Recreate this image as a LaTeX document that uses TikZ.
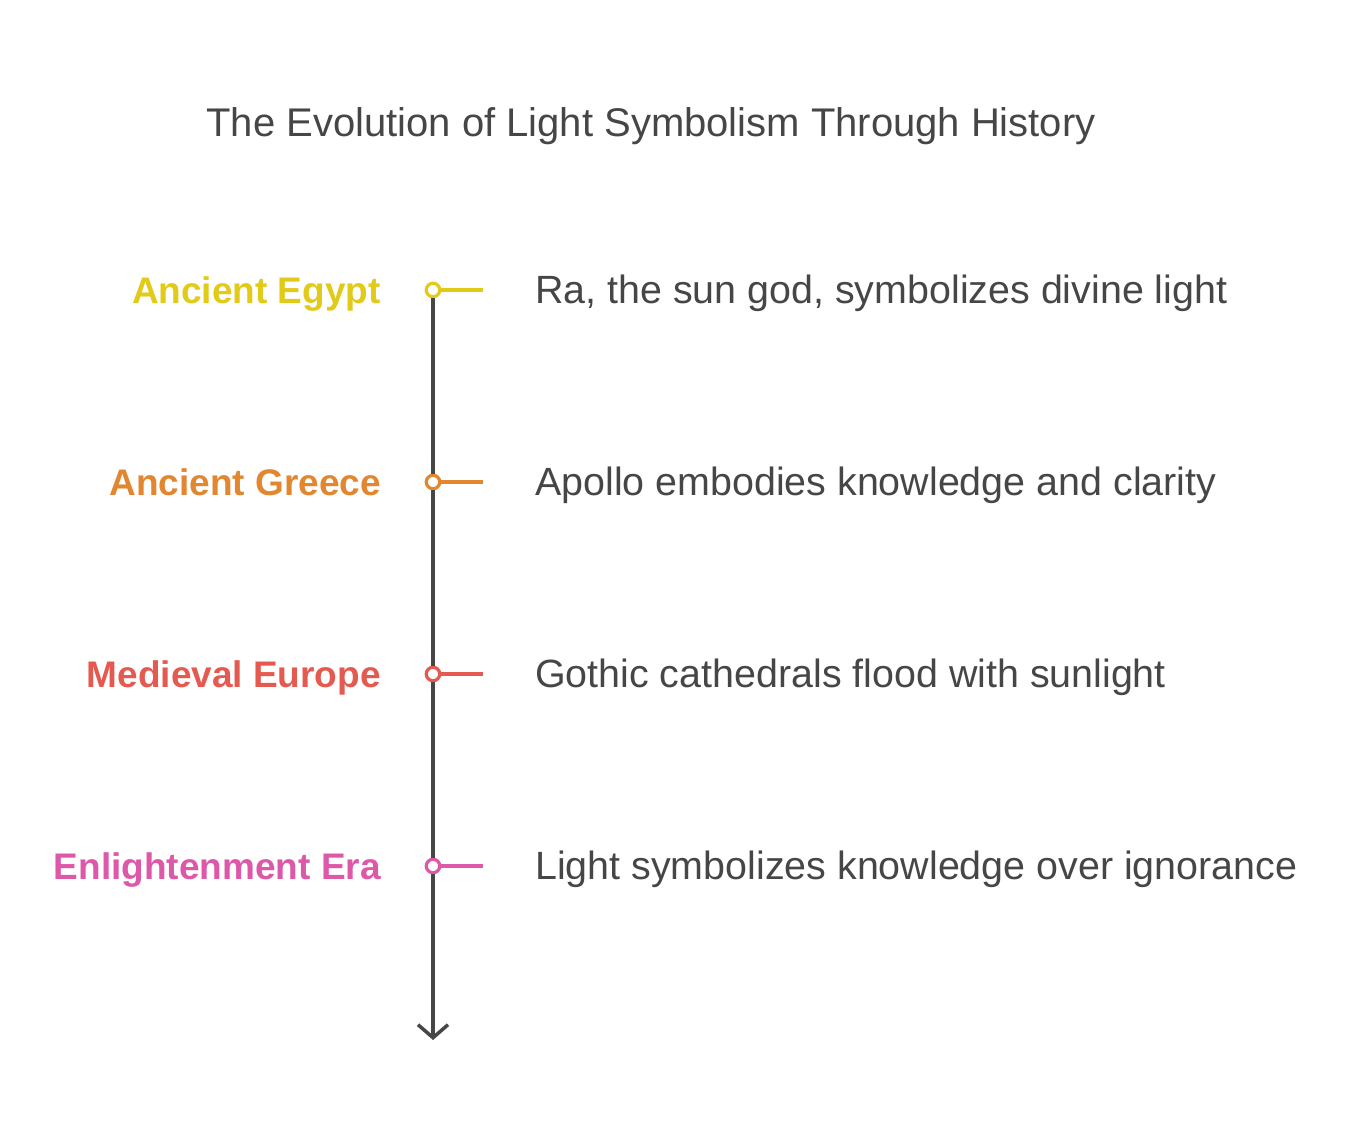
\documentclass[tikz,border=0pt]{standalone}
\usepackage{fontspec}
\setmainfont{Liberation Sans}
\usetikzlibrary{arrows.meta}
\definecolor{ink}{HTML}{464646}
\definecolor{cegy}{HTML}{E1CA18}
\definecolor{cgre}{HTML}{E2862F}
\definecolor{cmed}{HTML}{E45A50}
\definecolor{cenl}{HTML}{DD58A8}
\tikzset{dt/.append style={circle,fill=white,line width=3.2pt,minimum size=13.5pt,inner sep=0pt}}
\tikzset{lb/.append style={anchor=base east,inner sep=0pt,font=\fontsize{37}{40}\selectfont\bfseries}}
\tikzset{tx/.append style={anchor=base west,inner sep=0pt,text=ink,font=\fontsize{39.4}{44}\selectfont}}

\begin{document}
\begin{tikzpicture}[x=1pt,y=-1pt]
                \useasboundingbox (0,0) rectangle (1372,1142);
                \node[anchor=base,inner sep=0pt,text=ink,font=\fontsize{40}{44}\selectfont] (title) at (651,137) {The Evolution of Light Symbolism Through History};
                % timeline
                \coordinate (end) at (433,1040);
                \node[dt,draw=cegy] (e1) at (433,290) {};
                \node[dt,draw=cgre] (e2) at (433,482) {};
                \node[dt,draw=cmed] (e3) at (433,674) {};
                \node[dt,draw=cenl] (e4) at (433,866) {};
                \path[draw=ink,line width=3.5pt] (e1) edge (e2) (e2) edge (e3) (e3) edge (e4);
                \draw[ink,line width=3.5pt,-{Straight Barb[length=13pt,width=30pt,line width=3.5pt]}] (e4) -- (end);
                \node[lb,text=cegy] (l1) at (381,303) {Ancient Egypt};
                \node[lb,text=cgre] (l2) at (381,495) {Ancient Greece};
                \node[lb,text=cmed] (l3) at (381,687) {Medieval Europe};
                \node[lb,text=cenl] (l4) at (381,879) {Enlightenment Era};
                \node[tx] (t1) at (535,303) {Ra, the sun god, symbolizes divine light};
                \node[tx] (t2) at (535,495) {Apollo embodies knowledge and clarity};
                \node[tx] (t3) at (535,687) {Gothic cathedrals flood with sunlight};
                \node[tx] (t4) at (535,879) {Light symbolizes knowledge over ignorance};
                \coordinate (s1) at (483,290);
                \coordinate (s2) at (483,482);
                \coordinate (s3) at (483,674);
                \coordinate (s4) at (483,866);
                \path[line width=3.5pt] (e1) edge[cegy] (s1) (e2) edge[cgre] (s2) (e3) edge[cmed] (s3) (e4) edge[cenl] (s4);
            \end{tikzpicture}
\end{document}
